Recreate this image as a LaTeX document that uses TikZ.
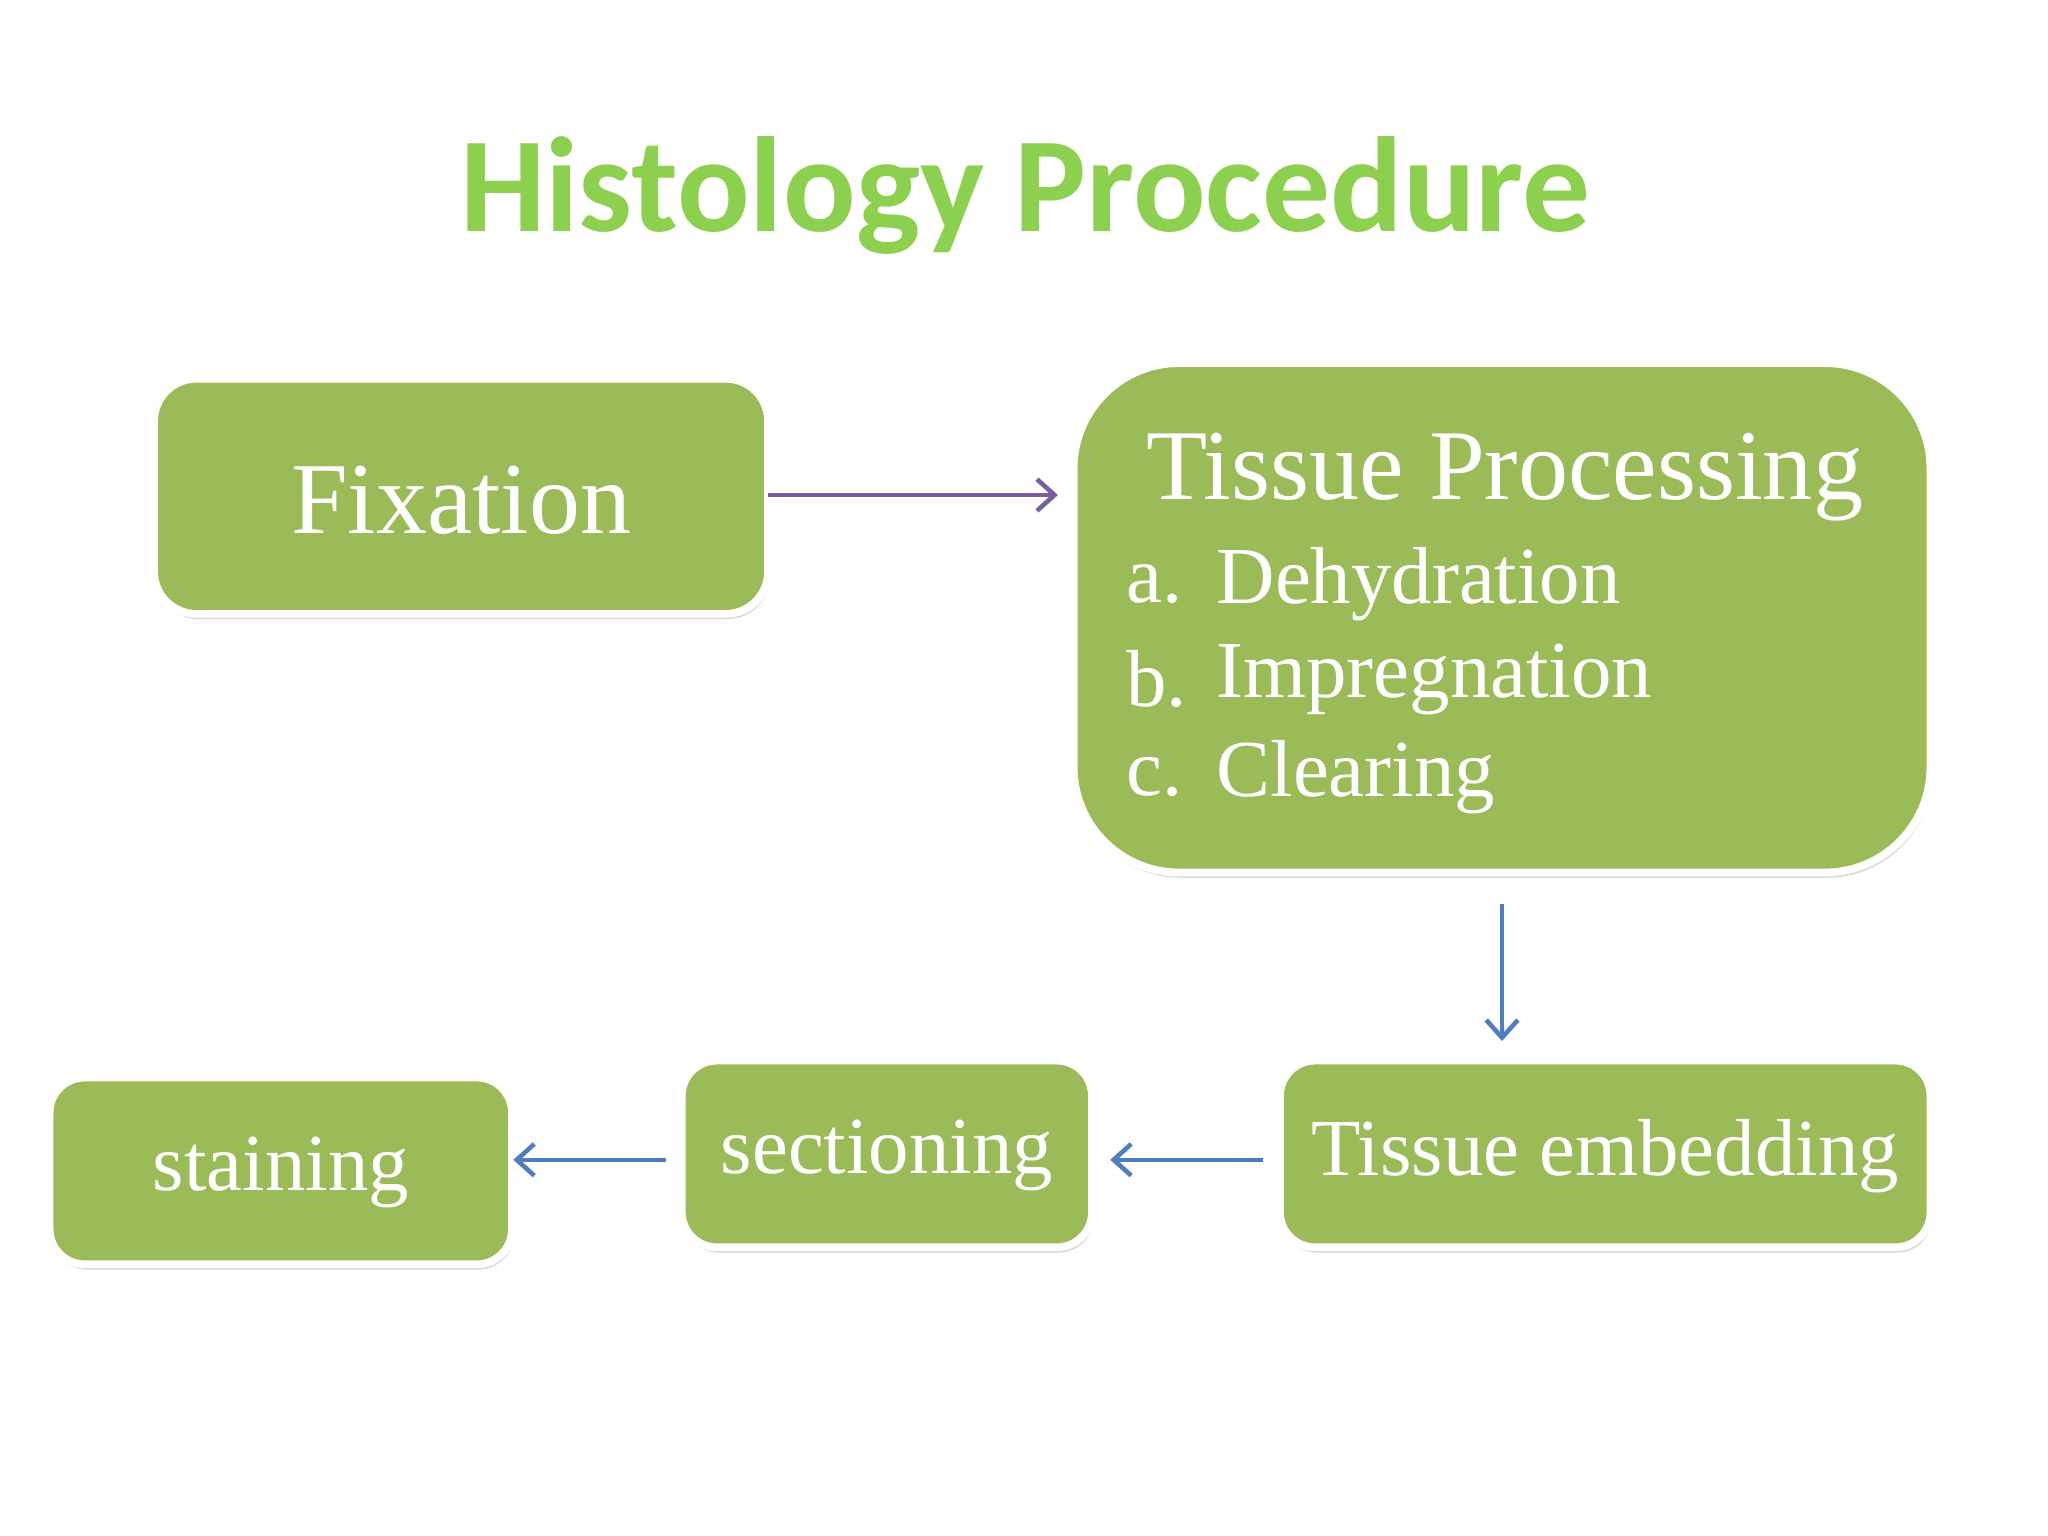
\documentclass[tikz,border=0pt]{standalone}
\usepackage{fontspec}
\setmainfont{Liberation Serif}
\newfontfamily\titlefont{Carlito}
\usetikzlibrary{shadows,arrows.meta}
\definecolor{boxg}{HTML}{9BBB59}
\definecolor{titg}{HTML}{8DD04F}
\definecolor{arrp}{HTML}{7A5FA0}
\definecolor{arrb}{HTML}{4F7DBE}
\begin{document}
\begin{tikzpicture}[x=0.01306cm,y=-0.01306cm,
  box/.style={draw=white,line width=2.2pt,fill=boxg,rounded corners=#1,
    drop shadow={shadow xshift=0.5pt,shadow yshift=-1.5pt,fill=gray!60,opacity=0.5}},
  lbl/.style={text=white,font=\fontsize{23}{27}\selectfont},
  arr/.style={line width=1.3pt,-{Straight Barb[length=5pt,width=9pt]}}]
\useasboundingbox (0,0) rectangle (1568,1176);
\node[font=\titlefont\bfseries\fontsize{38.5}{42}\selectfont,text=titg] (t) at (785,150) {Histology Procedure};
\draw[box=12pt] (118,290) rectangle (588,470);
\node[lbl,font=\fontsize{29}{33}\selectfont] (fix) at (353,383) {Fixation};
\draw[box=30pt] (822,278) rectangle (1478,668);
\node[lbl,font=\fontsize{28.5}{33}\selectfont,anchor=west] (tp) at (868,365) {Tissue Processing};
\node[lbl,anchor=west] (a) at (853,447) {a.};
\node[lbl,anchor=west] (ad) at (922,447) {Dehydration};
\node[lbl,anchor=west] (b) at (853,520) {b.};
\node[lbl,anchor=west] (bd) at (922,520) {Impregnation};
\node[lbl,anchor=west] (c) at (853,595) {c.};
\node[lbl,anchor=west] (cd) at (922,595) {Clearing};
\draw[box=10pt] (980,812) rectangle (1478,955);
\node[lbl] (te) at (1229,885) {Tissue embedding};
\draw[box=10pt] (522,812) rectangle (836,955);
\node[lbl] (se) at (679,885) {sectioning};
\draw[box=10pt] (38,825) rectangle (392,968);
\node[lbl] (st) at (215,898) {staining};
\coordinate (p1) at (588,379); \coordinate (p2) at (810,379);
\coordinate (q1) at (1150,692); \coordinate (q2) at (1150,797);
\coordinate (r1) at (967,888); \coordinate (r2) at (850,888);
\coordinate (s1) at (510,888); \coordinate (s2) at (393,888);
\draw[arr,arrp] (p1) -- (p2);
\draw[arr,arrb] (q1) -- (q2);
\draw[arr,arrb] (r1) -- (r2);
\draw[arr,arrb] (s1) -- (s2);
\end{tikzpicture}
\end{document}
